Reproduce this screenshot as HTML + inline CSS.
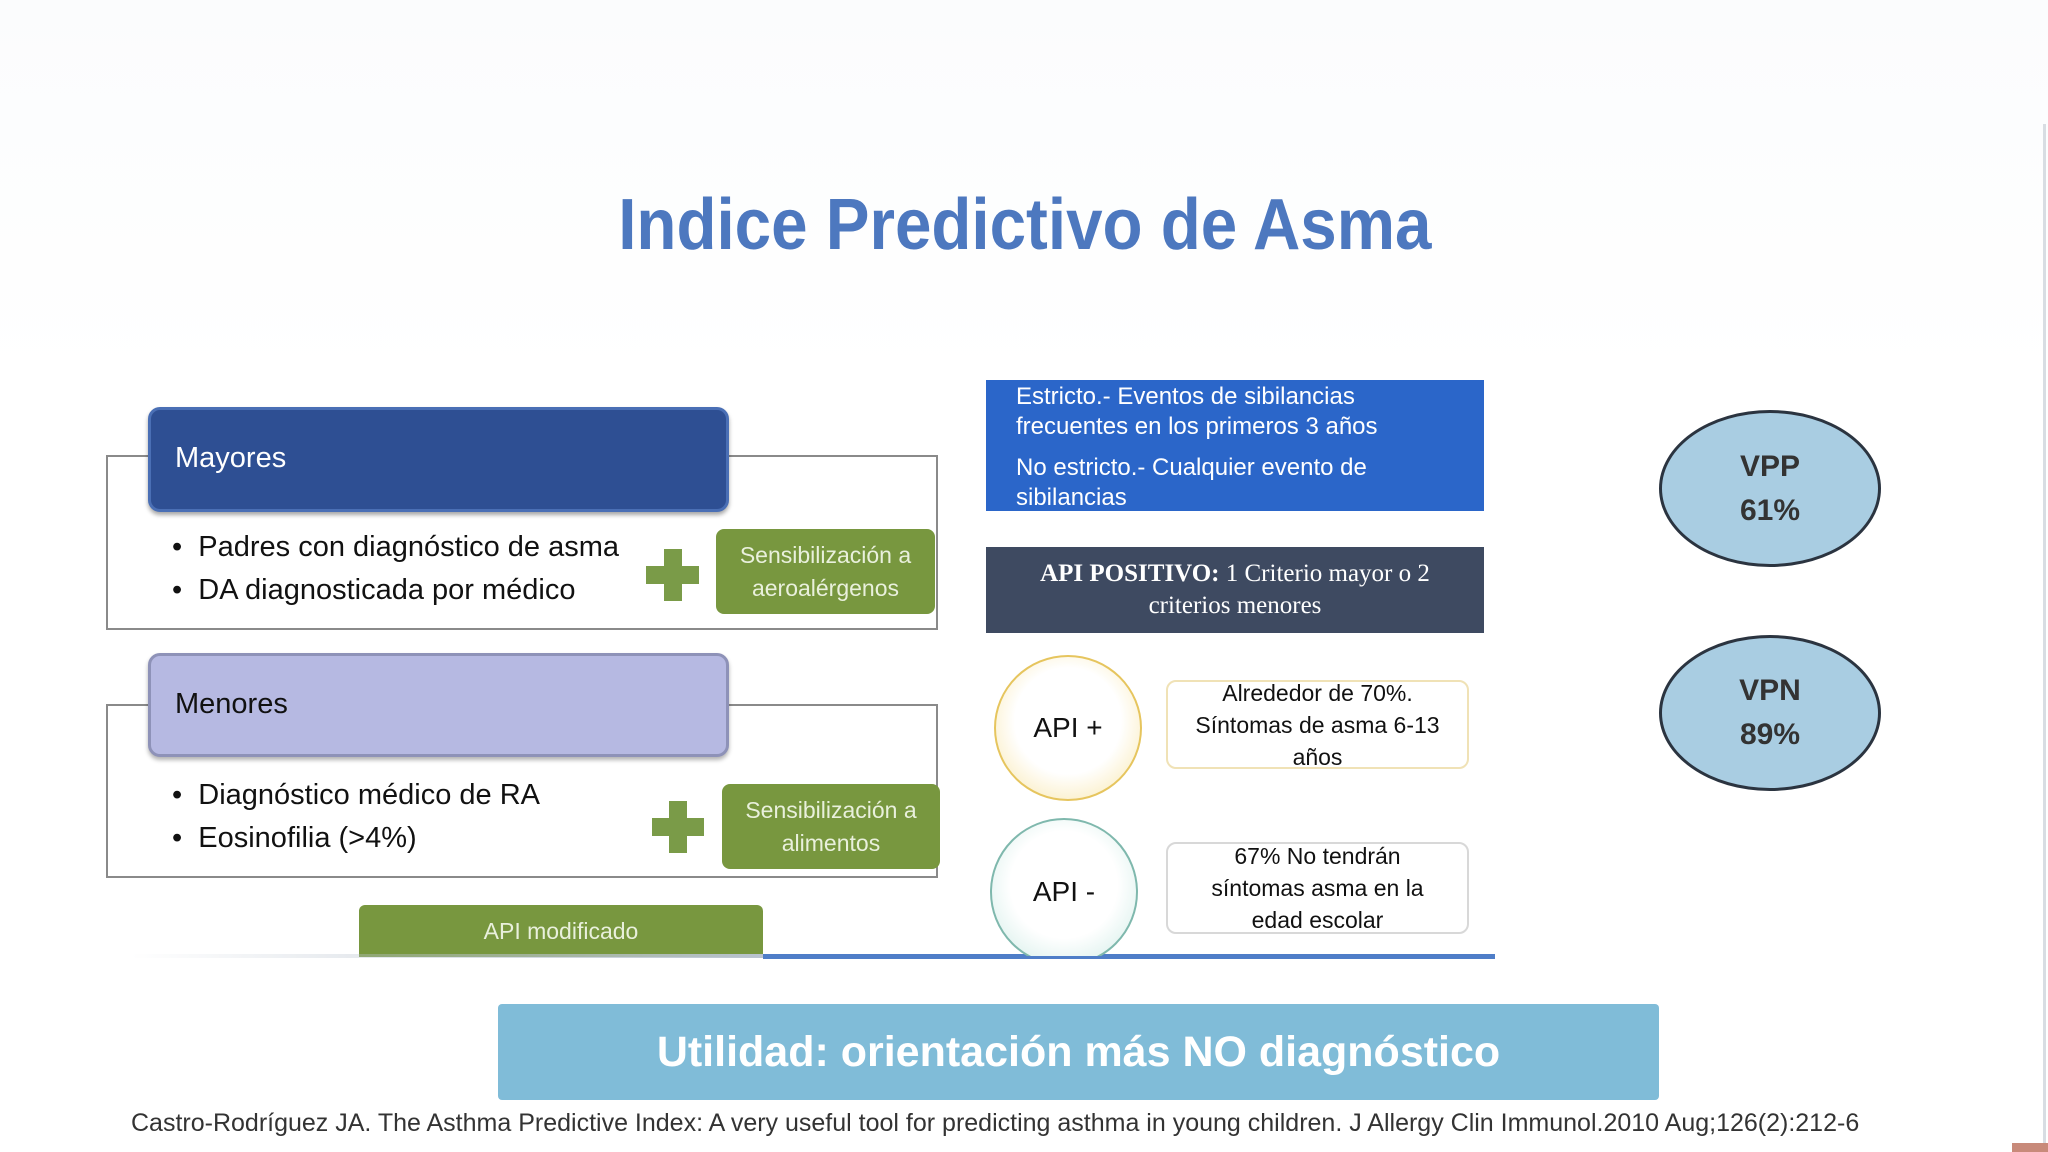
<!DOCTYPE html>
<html><head><meta charset="utf-8"><style>
body{margin:0;width:2048px;height:1152px;background:#fff;position:relative;overflow:hidden;font-family:"Liberation Sans",sans-serif}
.a{position:absolute;box-sizing:border-box}
.c{display:flex;align-items:center;justify-content:center;text-align:center}
.sx{display:inline-block;transform-origin:left center}
</style></head><body>
<div class="a" style="left:0;top:0;width:2048px;height:380px;background:linear-gradient(#fbfcfd,#fff)"></div>
<div class="a" style="left:2043px;top:124px;width:3px;height:1028px;background:#d8dde3"></div>
<div class="a" style="left:2012px;top:1143px;width:36px;height:9px;background:#c88a7a"></div>

<div class="a c" style="left:520px;top:180px;width:1010px;height:90px;color:#4d78bf;font-weight:bold;font-size:72px"><span style="display:inline-block;transform:scaleX(0.91)">Indice Predictivo de Asma</span></div>

<!-- Mayores -->
<div class="a" style="left:106px;top:455px;width:832px;height:175px;border:2px solid #8a8a8a"></div>
<div class="a" style="left:148px;top:407px;width:581px;height:105px;background:#2e4f93;border:3px solid #4a6fb5;border-radius:12px;box-shadow:0 3px 4px rgba(0,0,0,.35)"></div>
<div class="a" style="left:175px;top:442px;color:#fff;font-size:29px">Mayores</div>
<div class="a" style="left:172px;top:526px;color:#111;font-size:29px;line-height:43px;white-space:nowrap">•&nbsp; Padres con diagnóstico de asma<br>•&nbsp; DA diagnosticada por médico</div>
<div class="a" style="left:664px;top:549px;width:18px;height:52px;background:#7a9b48"></div>
<div class="a" style="left:646px;top:566px;width:53px;height:18px;background:#7a9b48"></div>
<div class="a c" style="left:716px;top:529px;width:219px;height:85px;background:#78973f;border-radius:8px;color:#e9f0dc;font-size:23px;line-height:33px">Sensibilización a<br>aeroalérgenos</div>

<!-- Menores -->
<div class="a" style="left:106px;top:704px;width:832px;height:174px;border:2px solid #8a8a8a"></div>
<div class="a" style="left:148px;top:653px;width:581px;height:104px;background:#b6b9e2;border:3px solid #8e92b8;border-radius:12px;box-shadow:0 3px 4px rgba(0,0,0,.3)"></div>
<div class="a" style="left:175px;top:688px;color:#111;font-size:29px">Menores</div>
<div class="a" style="left:172px;top:774px;color:#111;font-size:29px;line-height:43px;white-space:nowrap">•&nbsp; Diagnóstico médico de RA<br>•&nbsp; Eosinofilia (&gt;4%)</div>
<div class="a" style="left:669px;top:801px;width:18px;height:52px;background:#7a9b48"></div>
<div class="a" style="left:652px;top:818px;width:52px;height:18px;background:#7a9b48"></div>
<div class="a c" style="left:722px;top:784px;width:218px;height:85px;background:#78973f;border-radius:8px;color:#e9f0dc;font-size:23px;line-height:33px">Sensibilización a<br>alimentos</div>

<div class="a c" style="left:359px;top:905px;width:404px;height:52px;background:#78973f;border-radius:6px 6px 0 0;color:#e9f0dc;font-size:23px">API modificado</div>
<div class="a" style="left:131px;top:954px;width:632px;height:4px;background:linear-gradient(90deg,rgba(200,205,210,0),#b9c3cf)"></div>
<div class="a" style="left:763px;top:954px;width:732px;height:5px;background:#4f7ec8"></div>

<!-- right column -->
<div class="a" style="left:986px;top:380px;width:498px;height:131px;background:#2b66c9;color:#fff;font-size:24px;line-height:30px;padding:2px 0 0 30px;white-space:nowrap">Estricto.- Eventos de sibilancias<br>frecuentes en los primeros 3 años<div style="height:11px"></div>No estricto.- Cualquier evento de<br>sibilancias</div>
<div class="a c" style="left:986px;top:547px;width:498px;height:86px;background:#3e4a61;color:#fff;font-family:'Liberation Serif',serif;font-size:25px;line-height:32px"><span><b>API POSITIVO:</b> 1 Criterio mayor o 2<br>criterios menores</span></div>

<div class="a c" style="left:994px;top:655px;width:148px;height:146px;border-radius:50%;background:radial-gradient(circle at 50% 45%,#fff 50%,#fbefc8 80%,#eed27a 100%);border:2px solid #e6c55e;font-size:28px;color:#111">API +</div>
<div class="a c" style="left:1166px;top:680px;width:303px;height:89px;border:2px solid #f0e2b6;border-radius:10px;font-size:23px;line-height:32px;color:#111">Alrededor de 70%.<br>Síntomas de asma 6-13<br>años</div>

<div class="a" style="left:990px;top:818px;width:150px;height:138px;overflow:hidden"><div class="a c" style="left:0;top:0;width:148px;height:148px;border-radius:50%;background:radial-gradient(circle at 50% 45%,#fff 50%,#dff2ee 80%,#a6d8cc 100%);border:2px solid #7fb8ad;font-size:28px;color:#111;padding-bottom:0">API -</div></div>
<div class="a c" style="left:1166px;top:842px;width:303px;height:92px;border:2px solid #d8d8d8;border-radius:10px;font-size:23px;line-height:32px;color:#111">67% No tendrán<br>síntomas asma en la<br>edad escolar</div>

<div class="a c" style="left:1659px;top:410px;width:222px;height:157px;border-radius:50%;background:#a9cde2;border:3px solid #2b3440;color:#333;font-weight:bold;font-size:30px;line-height:44px">VPP<br>61%</div>
<div class="a c" style="left:1659px;top:635px;width:222px;height:156px;border-radius:50%;background:#a9cde2;border:3px solid #2b3440;color:#333;font-weight:bold;font-size:30px;line-height:44px">VPN<br>89%</div>

<div class="a c" style="left:498px;top:1004px;width:1161px;height:96px;background:#80bcd8;border-radius:4px;color:#fff;font-weight:bold;font-size:43px">Utilidad: orientación más NO diagnóstico</div>
<div class="a" style="left:131px;top:1109px;width:1760px;color:#333;font-size:25px;white-space:nowrap">Castro-Rodríguez JA. The Asthma Predictive Index: A very useful tool for predicting asthma in young children. J Allergy Clin Immunol.2010 Aug;126(2):212-6</div>
</body></html>
